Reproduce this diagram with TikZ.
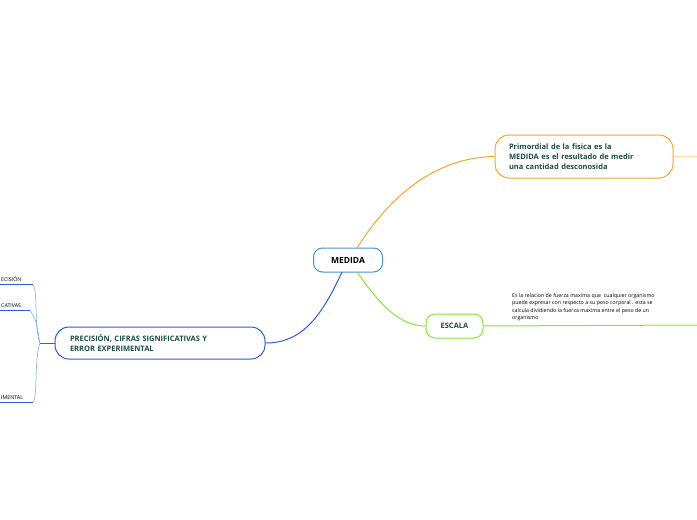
\documentclass[tikz,border=0pt]{standalone}
\usepackage{fontspec}
\setmainfont{Open Sans}
\definecolor{tx}{HTML}{1B4D3E}
\definecolor{bl}{HTML}{2A5CE0}
\definecolor{lb}{HTML}{4A90D9}
\definecolor{og}{HTML}{F7A523}
\definecolor{gr}{HTML}{8AE62E}
\begin{document}
\begin{tikzpicture}[x=1pt,y=-1pt,
 box/.style={draw,line width=1pt,rounded corners=14pt,font=\bfseries\fontsize{7.5}{10}\selectfont,text=tx,align=left,inner xsep=12pt},
 small/.style={font=\fontsize{5.3}{7.5}\selectfont,text=black,inner sep=1pt}]
\useasboundingbox (0,0) rectangle (697,520);
\node[box,draw=lb,minimum width=69pt,minimum height=24pt,rounded corners=9pt,text=black,font=\bfseries\fontsize{8.5}{10}\selectfont] (m) at (348,260) {MEDIDA};
\node[box,draw=og,minimum width=178pt,minimum height=43pt,text width=150pt] (p) at (584,156.5) {Primordial de la fisica es la\\MEDIDA es el resultado de medir\\una cantidad desconosida};
\node[box,draw=gr,minimum width=57pt,minimum height=24pt,rounded corners=9pt] (e) at (454.5,326) {ESCALA};
\node[box,draw=bl,minimum width=210pt,minimum height=32pt,text width=180pt] (c) at (160,343) {PRECISIÓN, CIFRAS SIGNIFICATIVAS Y\\ERROR EXPERIMENTAL};
\draw[og,line width=1pt] (357,248) .. controls (400,180) and (450,157) .. (p.west);
\draw[og!40,line width=1pt] (p.east) -- (697,156.5);
\draw[gr,line width=1pt] (357,272) .. controls (380,305) and (400,326) .. (e.west);
\draw[gr,line width=1pt] (e.east) -- (697,325);
\node[small,anchor=south west,align=left] (n) at (511,322) {Es la relacion de fuerza maxima que\ \ cualquier organismo\\puede expresar con respecto a su peso corporal . esta se\\calcula dividiendo la fuerza maxima entre el peso de un\\organismo};
\draw[bl,line width=1pt] (342,272) .. controls (320,320) and (300,343) .. (c.east);
\coordinate (j) at (40,343);
\draw[bl,line width=1pt] (c.west) -- (j);
\node[small,anchor=south west] (t1) at (0,283) {ECISIÓN};
\node[small,anchor=south west] (t2) at (0,309) {CATIVAS};
\node[small,anchor=south west] (t3) at (0,401) {IMENTAL};
\coordinate (a1) at (33,284.5);\coordinate (a2) at (30,310.5);\coordinate (a3) at (33,402.5);
\draw[bl,line width=1.3pt] (0,284.5) -- (a1); \draw[bl,line width=1.3pt] (0,310.5) -- (a2); \draw[bl,line width=1.3pt] (0,402.5) -- (a3);
\draw[lb!70,line width=0.6pt] (j) .. controls (34,330) and (38,290) .. (a1);
\draw[lb!70,line width=0.6pt] (j) .. controls (36,320) .. (a2);
\draw[lb!70,line width=0.6pt] (j) .. controls (34,360) and (38,395) .. (a3);
\end{tikzpicture}
\end{document}
